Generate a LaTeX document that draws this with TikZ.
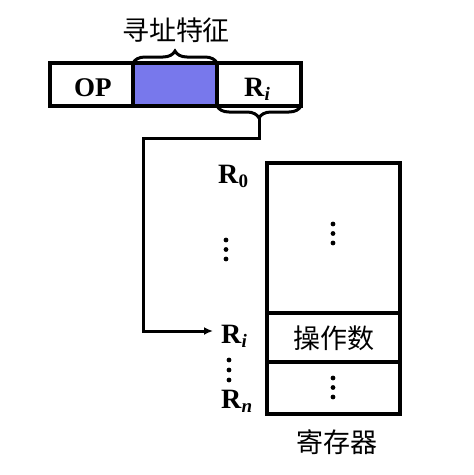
\documentclass[tikz,border=0pt]{standalone}
\usepackage{fontspec}
\setmainfont{Liberation Serif}
\newfontfamily\cjk{Noto Sans CJK SC}
\usetikzlibrary{decorations.pathreplacing,arrows.meta}
\newcommand\Rsub[1]{\textbf{R}\raisebox{-4pt}{\fontsize{19}{19}\selectfont\bfseries #1}}
\definecolor{addrblue}{RGB}{120,120,236}
\begin{document}
\begin{tikzpicture}[x=1pt,y=1pt,
  cell/.style={draw, line width=3.2pt, rectangle, inner sep=0pt, outer sep=0pt},
  lbl/.style={inner sep=0pt, font=\fontsize{28}{28}\selectfont},
  cjklbl/.style={inner sep=0pt, font=\cjk\fontsize{27}{27}\selectfont},
  bracestyle/.style={draw, line width=3pt, decorate, decoration={brace, amplitude=12pt}},
  conn/.style={line width=3pt},
  dot/.style={fill=black}
]
\useasboundingbox (0,0) rectangle (474,-475);
% instruction bar
\node[cell, minimum width=83pt, minimum height=43pt] (op) at (91.5,-84.5) {};
\node[cell, fill=addrblue, minimum width=84pt, minimum height=43pt] (addr) at (175,-84.5) {};
\node[cell, minimum width=84pt, minimum height=43pt] (ri) at (259,-84.5) {};
\node[lbl, anchor=base west, font=\fontsize{27}{27}\selectfont] (optxt) at (74,-96) {\bfseries OP};
\node[lbl, anchor=base west] (ritxt) at (244,-96) {\Rsub{\itshape i}};
% braces
\draw[bracestyle] (addr.north west) -- (addr.north east);
\node[cjklbl] (feat) at (176,-30) {寻址特征};
\draw[bracestyle] (ri.south east) -- (ri.south west);
\coordinate (bt) at (259,-118);
\coordinate (c1) at (143,-138);
% register file
\node[cell, minimum width=133pt, minimum height=150pt] (rtop) at (333.5,-238) {};
\node[cell, minimum width=133pt, minimum height=49pt] (rmid) at (333.5,-337.5) {};
\node[cell, minimum width=133pt, minimum height=52pt] (rbot) at (333.5,-388) {};
\node[cjklbl] (opnd) at (334,-338) {操作数};
\node[cjklbl] (regs) at (337,-442) {寄存器};
% register labels
\node[lbl, anchor=base west] (r0) at (218,-183) {\Rsub{0}};
\node[lbl, anchor=base west] (rit) at (221,-343) {\Rsub{\itshape i}};
\node[lbl, anchor=base west] (rn) at (221,-408) {\Rsub{\itshape n}};
% dots
\foreach \y in {224,233.5,243} \fill[dot] (333,-\y) circle (2.4pt);
\foreach \y in {378,387.5,397} \fill[dot] (333,-\y) circle (2.4pt);
\foreach \y in {240,249.5,259} \fill[dot] (226,-\y) circle (2.4pt);
\foreach \y in {360,370,380} \fill[dot] (229,-\y) circle (2.4pt);
% connector
\coordinate (c2) at (213,-331);
\draw[conn, -{Latex[length=9pt,width=8pt]}] (bt) |- (c1) |- (c2);
\end{tikzpicture}
\end{document}
